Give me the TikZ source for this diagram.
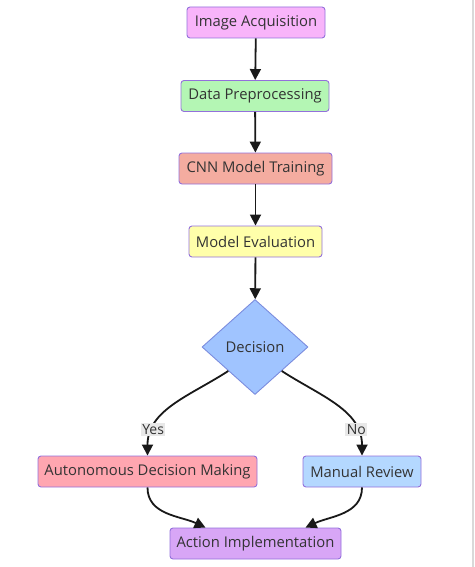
\documentclass[tikz,border=0pt]{standalone}
\usepackage{fontspec}
\setmainfont{Open Sans}
\usetikzlibrary{shapes.geometric,arrows.meta,calc}
\definecolor{txt}{HTML}{333333}
\definecolor{bord}{HTML}{9370DB}
\tikzset{
  box/.style={draw=bord, line width=0.9pt, rounded corners=3pt, minimum height=31pt, inner xsep=4pt, text=txt, font=\fontsize{14.8}{16}\selectfont},
  conn/.style={line width=1.8pt, draw=black!90, -{Triangle[length=11pt,width=11pt]}},
  lbl/.style={fill=black!9, text=txt, inner sep=1.5pt, font=\fontsize{14}{16}\selectfont}
}
\begin{document}
\begin{tikzpicture}[x=1pt,y=-1pt]
\useasboundingbox (0,0) rectangle (474,567);
\draw[black!15, line width=1.5pt] (473,0) -- (473,567);
\node[box, fill={rgb,255:red,248;green,180;blue,250}, minimum width=138pt] (acq) at (256,22.5) {Image Acquisition};
\node[box, fill={rgb,255:red,180;green,246;blue,180}, minimum width=148pt] (pre) at (255,96) {Data Preprocessing};
\node[box, fill={rgb,255:red,244;green,172;blue,160}, minimum width=153pt] (cnn) at (255.5,168.5) {CNN Model Training};
\node[box, fill={rgb,255:red,255;green,255;blue,170}, minimum width=133pt] (eval) at (255.5,241.5) {Model Evaluation};
\node[diamond, draw={rgb,255:red,123;green,140;blue,222}, line width=0.9pt, fill={rgb,255:red,160;green,196;blue,255}, minimum width=106pt, minimum height=95pt, inner sep=0pt, text=txt, font=\fontsize{14.8}{16}\selectfont] (dec) at (255,347) {Decision};
\node[box, fill={rgb,255:red,255;green,166;blue,176}, minimum width=219pt] (auto) at (147.5,471.5) {Autonomous Decision Making};
\node[box, fill={rgb,255:red,180;green,216;blue,255}, minimum width=118pt] (man) at (362,471.5) {Manual Review};
\node[box, fill={rgb,255:red,216;green,166;blue,246}, minimum width=171pt] (act) at (255.5,543.5) {Action Implementation};
\draw[conn] (acq) -- (pre);
\draw[conn] (pre) -- (cnn);
\draw[conn] (cnn) -- (eval);
\draw[conn] (eval) -- (dec);
\draw[conn] ($(dec.west)!0.5!(dec.south)$) to[out=213,in=90] node[lbl, pos=0.78] (yes) {Yes} (auto.north);
\draw[conn] ($(dec.east)!0.5!(dec.south)$) to[out=-33,in=90] node[lbl, pos=0.78] (no) {No} (man.north);
\draw[conn] (auto.south) to[out=-90,in=155] ([xshift=-50pt]act.north);
\draw[conn] (man.south) to[out=-90,in=25] ([xshift=50pt]act.north);
\end{tikzpicture}
\end{document}
